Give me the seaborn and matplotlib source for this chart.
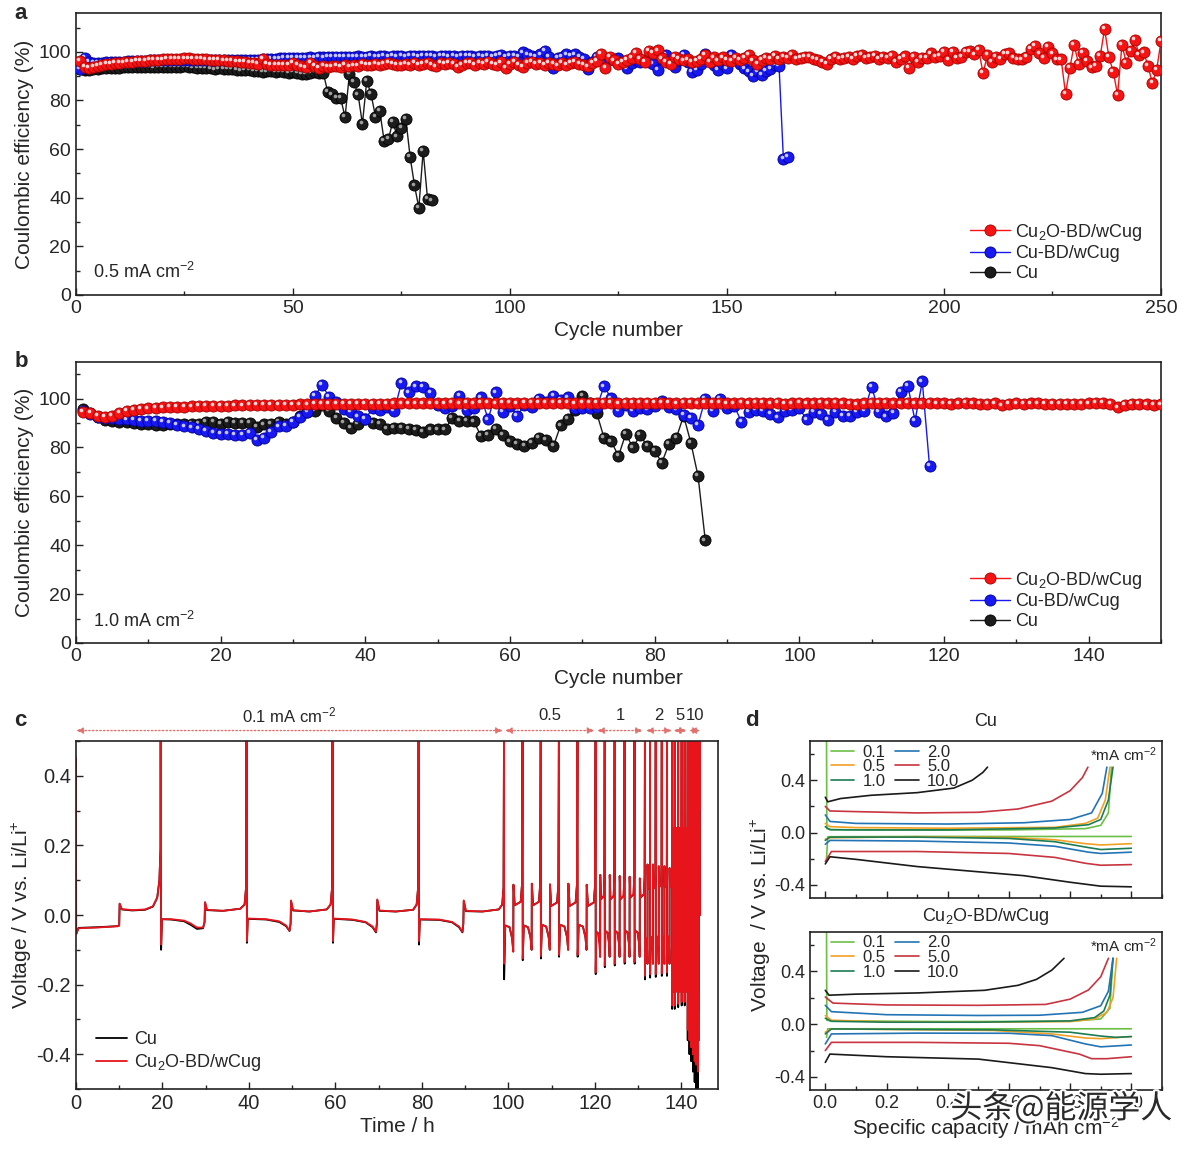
import numpy as np
import matplotlib
matplotlib.use("Agg")
import matplotlib.pyplot as plt
import matplotlib.transforms as mtransforms
import matplotlib.patheffects as pe
from matplotlib.ticker import MultipleLocator
import seaborn as sns

sns.set_theme(style="ticks")
plt.rcParams['font.family'] = ['Liberation Sans', 'DejaVu Sans']
plt.rcParams['mathtext.fontset'] = 'custom'
plt.rcParams['mathtext.rm'] = 'Liberation Sans'
plt.rcParams['mathtext.it'] = 'Liberation Sans:italic'
plt.rcParams['axes.unicode_minus'] = False

# ---------------- DATA ----------------
# (a) Coulombic efficiency at 0.5 mA cm-2, one value per cycle
ce_a_cu2o = [
    96.3, 93.8, 93.5, 93.8, 94.2, 94.6, 94.9, 95.1, 95.3, 95.5,
    95.7, 95.9, 96.0, 96.2, 96.3, 96.4, 96.6, 96.7, 96.8, 96.9,
    97.0, 97.1, 97.1, 97.2, 97.3, 97.3, 97.2, 97.1, 97.0, 96.9,
    96.8, 96.7, 96.6, 96.5, 96.4, 96.3, 96.1, 96.0, 95.8, 95.6,
    95.4, 95.2, 97.0, 95.0, 94.8, 94.7, 94.6, 94.5, 94.8, 95.3,
    94.5, 94.0, 93.6, 95.5, 94.2, 93.5, 94.2, 93.8, 94.0, 94.3,
    93.8, 94.5, 94.0, 94.4, 94.2, 95.0, 94.5, 94.8, 95.0, 94.6,
    94.9, 95.5, 95.0, 94.6, 94.8, 95.2, 94.5, 95.6, 94.7, 95.0,
    95.4, 94.8, 94.0, 95.3, 95.1, 95.6, 95.0, 93.9, 94.8, 95.3,
    95.5, 94.8, 95.6, 95.0, 96.0, 95.2, 94.8, 95.7, 93.5, 95.2,
    95.8, 94.5, 93.8, 95.6, 96.0, 95.0, 95.4, 94.7, 95.5, 95.0,
    94.4, 95.3, 94.8, 95.5, 96.0, 95.2, 94.5, 94.0, 95.5, 96.2,
    99.3, 93.4, 98.0, 96.5, 95.2, 96.0, 96.6, 97.5, 99.6, 97.0,
    95.9, 100.3, 99.5, 100.6, 97.3, 96.0, 95.2, 98.0, 97.0, 96.5,
    96.9, 95.8, 96.2, 97.0, 98.6, 96.0, 97.7, 96.5, 97.7, 96.8,
    96.3, 97.5, 96.8, 97.6, 98.6, 96.5, 95.2, 96.8, 97.6, 97.0,
    98.2, 97.0, 98.0, 97.4, 98.6, 97.2, 97.5, 98.0, 97.8, 97.0,
    96.6, 95.8, 94.9, 97.0, 98.0, 97.2, 97.6, 98.0, 97.2, 98.3,
    98.6, 97.5, 97.8, 98.2, 97.0, 98.0, 97.5, 98.3, 95.9, 97.0,
    98.1, 93.3, 97.8, 96.0, 97.4, 97.4, 99.4, 97.8, 98.5, 100.1,
    96.7, 100.1, 97.4, 98.0, 100.1, 100.2, 99.0, 100.8, 91.2, 98.7,
    96.0, 98.0, 97.2, 99.1, 99.4, 97.4, 96.9, 96.9, 97.8, 101.1,
    102.5, 99.4, 97.5, 102.2, 99.4, 96.9, 96.9, 82.8, 93.5, 102.9,
    95.0, 99.5, 96.4, 93.6, 94.3, 98.4, 109.4, 97.8, 91.9, 82.3,
    102.9, 95.6, 100.4, 104.9, 98.6, 99.8, 94.3, 87.2, 92.6, 104.5,
]
ce_a_cubd = [
    93.0, 97.5, 96.0, 95.5, 95.5, 95.6, 95.7, 95.8, 95.9, 96.0,
    96.0, 96.1, 96.2, 96.3, 96.3, 96.4, 96.5, 96.5, 96.6, 96.6,
    96.7, 96.7, 96.7, 96.8, 96.8, 96.8, 96.8, 96.8, 96.7, 96.7,
    96.6, 96.6, 96.5, 96.5, 96.5, 96.5, 96.5, 96.5, 96.6, 96.6,
    96.7, 96.8, 96.9, 97.0, 97.1, 97.2, 97.3, 97.4, 97.4, 97.5,
    97.5, 97.4, 97.6, 97.7, 97.6, 97.8, 97.7, 97.8, 97.9, 97.8,
    97.9, 98.0, 97.8, 98.0, 98.1, 97.9, 98.0, 98.2, 98.0, 98.1,
    98.3, 98.0, 98.2, 98.1, 98.3, 98.0, 98.4, 98.2, 98.1, 98.3,
    98.2, 98.4, 98.0, 98.3, 98.5, 98.1, 98.3, 98.0, 98.4, 98.2,
    98.3, 98.0, 98.4, 98.1, 98.5, 97.8, 98.2, 98.6, 98.0, 98.4,
    98.5, 98.0, 99.8, 99.0, 98.2, 98.0, 99.0, 100.5, 98.0, 93.4,
    97.5, 98.0, 99.0, 98.5, 99.0, 98.0, 97.0, 93.0, 96.0, 98.0,
    98.0, 97.5, 97.0, 96.5, 97.3, 96.0, 93.2, 95.5, 96.5, 96.0,
    96.5, 95.9, 95.0, 92.5, 97.0, 98.6, 96.0, 93.9, 96.5, 98.6,
    96.0, 91.8, 92.5, 95.0, 99.0, 96.5, 94.5, 92.5, 95.0, 93.2,
    98.6, 96.5, 95.0, 93.2, 92.0, 90.0, 92.0, 90.4, 92.2, 93.0,
    94.5, 94.1, 55.9, 56.7,
]
ce_a_cu = [
    93.0, 92.7, 92.6, 92.8, 93.0, 93.2, 93.3, 93.4, 93.5, 93.5,
    93.6, 93.6, 93.7, 93.7, 93.7, 93.8, 93.8, 93.6, 93.8, 93.8,
    93.9, 93.9, 93.8, 93.9, 94.0, 93.9, 93.6, 93.4, 93.5, 93.3,
    93.2, 92.8, 93.2, 93.0, 92.9, 93.0, 92.7, 92.4, 92.6, 92.5,
    92.3, 92.2, 91.8, 92.0, 92.2, 91.8, 92.0, 91.7, 91.5, 91.9,
    91.2, 91.0, 90.8, 91.4, 91.6, 91.5, 91.2, 83.6, 82.5, 81.1,
    80.9, 73.1, 90.8, 87.7, 82.5, 70.4, 88.1, 82.6, 73.4, 75.7,
    63.5, 64.1, 71.3, 65.2, 68.6, 72.4, 56.7, 45.1, 35.8, 59.3,
    39.6, 38.9,
]

# (b) Coulombic efficiency at 1.0 mA cm-2
ce_b_cu2o = [
    94.7, 94.0, 93.0, 92.6, 92.8, 94.3, 95.0, 95.5, 95.8, 96.0,
    96.2, 96.4, 96.5, 96.6, 96.7, 96.8, 96.9, 97.0, 97.0, 97.1,
    97.1, 97.2, 97.2, 97.3, 97.3, 97.3, 97.4, 97.4, 97.4, 97.5,
    97.6, 97.6, 97.7, 97.7, 97.7, 97.8, 97.8, 97.8, 97.8, 97.9,
    97.9, 97.9, 97.9, 98.0, 98.0, 98.0, 98.0, 98.0, 98.0, 98.0,
    98.0, 98.1, 98.0, 98.1, 98.0, 98.1, 98.1, 98.0, 98.1, 98.1,
    98.0, 98.1, 98.1, 98.2, 98.1, 98.1, 98.2, 98.1, 98.0, 98.1,
    98.1, 98.2, 98.1, 98.1, 98.0, 98.1, 98.1, 98.2, 98.1, 98.1,
    98.2, 98.1, 98.0, 98.1, 98.1, 98.0, 98.2, 98.1, 98.1, 98.0,
    98.0, 98.1, 98.0, 98.2, 98.1, 98.0, 98.1, 97.9, 98.0, 98.1,
    98.0, 98.0, 98.1, 98.0, 98.1, 98.0, 97.9, 97.6, 98.0, 98.1,
    98.2, 98.1, 98.0, 98.0, 98.1, 98.0, 98.0, 98.1, 98.0, 98.0,
    97.9, 98.0, 98.1, 98.0, 97.9, 97.9, 98.0, 97.2, 97.9, 98.0,
    97.9, 98.0, 98.0, 97.9, 97.9, 97.8, 97.9, 97.8, 97.9, 98.0,
    98.3, 98.1, 97.8, 96.4, 97.5, 97.7, 97.8, 97.6, 97.3, 97.6,
]
ce_b_cubd = [
    95.0, 93.5, 92.5, 92.0, 92.0, 91.8, 91.5, 91.3, 91.0, 91.0,
    90.8, 90.5, 90.0, 89.2, 88.6, 88.2, 87.5, 86.8, 86.0, 85.6,
    85.4, 85.3, 85.2, 85.8, 83.2, 84.0, 86.3, 88.6, 88.8, 90.4,
    92.4, 94.4, 101.0, 105.5, 100.8, 98.5, 95.8, 94.6, 92.7, 91.6,
    96.0, 95.5, 96.5, 95.0, 106.5, 102.5, 105.0, 104.8, 102.2, 97.5,
    96.0, 97.0, 101.0, 95.5, 96.0, 100.5, 91.5, 102.5, 94.5, 97.0,
    92.9, 97.5, 96.5, 100.0, 98.5, 101.0, 99.5, 100.5, 96.0, 96.0,
    96.0, 96.5, 105.0, 100.1, 95.0, 97.5, 95.0, 96.0, 95.6, 97.0,
    99.0, 96.5, 95.6, 93.3, 92.0, 89.3, 100.0, 95.0, 99.8, 96.0,
    97.0, 90.5, 94.6, 95.5, 95.0, 93.7, 92.3, 95.0, 95.5, 96.0,
    91.5, 94.5, 93.6, 91.2, 94.5, 93.0, 93.0, 94.5, 95.0, 104.9,
    94.5, 92.7, 94.3, 102.9, 105.2, 91.0, 107.0, 72.4,
]
ce_b_cu = [
    95.8, 94.0, 92.5, 91.2, 90.7, 90.5, 90.4, 90.2, 89.6, 89.4,
    89.3, 89.3, 89.4, 89.5, 89.5, 89.6, 89.8, 90.3, 90.3, 89.6,
    90.5, 90.2, 90.0, 90.0, 88.5, 89.4, 89.8, 90.5, 89.6, 90.3,
    92.9, 94.5, 95.0, 97.5, 94.8, 92.1, 90.0, 88.0, 89.5, 91.6,
    90.0, 89.8, 87.7, 88.0, 88.0, 87.7, 87.2, 86.4, 87.4, 87.4,
    87.4, 92.0, 90.8, 91.0, 90.7, 84.6, 85.2, 87.6, 85.3, 82.5,
    81.6, 80.5, 81.9, 84.0, 83.0, 80.5, 89.0, 91.7, 95.5, 101.2,
    98.0, 94.0, 84.0, 82.5, 76.5, 85.5, 80.0, 85.0, 80.5, 78.6,
    73.8, 81.6, 83.9, 93.0, 82.0, 68.3, 42.0,
]
CE_LABELS = ['Cu$_2$O-BD/wCug', 'Cu-BD/wCug', 'Cu']

# (c) rate test, 0.1 mA cm-2 block read as (time h, voltage V) vertices
t_low = [0.0, 0.05, 0.6, 5.0, 9.8, 10.0, 10.1, 10.6, 13.0, 16.0, 17.8, 18.8, 19.3, 19.55, 19.6,
         19.7, 19.9, 22.0, 25.0, 26.5, 28.0, 29.4, 29.75, 29.85, 30.3, 34.0, 38.0, 39.0, 39.35, 39.45,
         39.55, 39.75, 44.0, 47.0, 48.6, 49.4, 49.65, 49.75, 50.2, 54.0, 58.0, 58.9, 59.25, 59.35,
         59.45, 59.65, 64.0, 67.0, 68.6, 69.4, 69.6, 69.7, 70.2, 74.0, 78.0, 78.8, 79.15, 79.25,
         79.35, 79.55, 84.0, 87.0, 88.6, 89.4, 89.6, 89.7, 90.2, 94.0, 97.8, 98.6, 98.9, 99.0]
v_low_cu2o = [0.45, -0.055, -0.038, -0.036, -0.032, -0.03, 0.033, 0.017, 0.014, 0.016, 0.025, 0.05, 0.1, 0.19, 0.5,
              -0.085, -0.012, -0.012, -0.016, -0.024, -0.036, -0.036, -0.02, 0.037, 0.015, 0.012, 0.018, 0.03, 0.08, 0.5,
              -0.075, -0.01, -0.012, -0.018, -0.03, -0.045, -0.025, 0.042, 0.014, 0.01, 0.016, 0.03, 0.08, 0.5,
              -0.075, -0.01, -0.013, -0.02, -0.033, -0.048, -0.025, 0.045, 0.013, 0.01, 0.015, 0.03, 0.08, 0.5,
              -0.075, -0.012, -0.013, -0.02, -0.033, -0.048, -0.025, 0.042, 0.012, 0.01, 0.016, 0.03, 0.08, 0.5]
v_low_cu = [0.45, -0.055, -0.037, -0.035, -0.032, -0.03, 0.032, 0.016, 0.013, 0.015, 0.024, 0.05, 0.1, 0.19, 0.5,
            -0.1, -0.012, -0.013, -0.018, -0.028, -0.04, -0.038, -0.02, 0.036, 0.014, 0.012, 0.018, 0.03, 0.08, 0.5,
            -0.08, -0.011, -0.013, -0.02, -0.032, -0.046, -0.025, 0.04, 0.013, 0.01, 0.016, 0.03, 0.08, 0.5,
            -0.08, -0.011, -0.014, -0.021, -0.035, -0.05, -0.025, 0.043, 0.012, 0.01, 0.015, 0.03, 0.08, 0.5,
            -0.085, -0.013, -0.014, -0.021, -0.035, -0.05, -0.025, 0.04, 0.011, 0.01, 0.016, 0.03, 0.08, 0.5]

# (c) higher rates (0.5, 1, 2, 5, 10 mA cm-2): per-cycle start times and levels
hr_start = [99.0, 103.3, 107.5, 111.7, 116.0,
            120.2, 122.3, 124.6, 126.9, 129.2,
            131.6, 132.8, 134.1, 135.5, 136.7,
            137.9, 138.5, 139.3, 140.1, 140.8,
            141.5, 141.9, 142.3, 142.7, 143.1, 143.5, 143.9, 144.3]
hr_plate = [-0.030, -0.030, -0.028, -0.028, -0.028,
            -0.048, -0.046, -0.046, -0.045, -0.045,
            -0.065, -0.062, -0.060, -0.060, -0.060,
            -0.12, -0.12, -0.12, -0.12, -0.12,
            -0.22, -0.23, -0.24, -0.25, -0.26, -0.27, -0.28]
hr_plate_end = [-0.105, -0.10, -0.10, -0.10, -0.10,
                -0.12, -0.12, -0.12, -0.12, -0.12,
                -0.14, -0.14, -0.14, -0.14, -0.14,
                -0.22, -0.22, -0.22, -0.22, -0.22,
                -0.30, -0.31, -0.32, -0.33, -0.34, -0.35, -0.36]
hr_over = [0.087, 0.09, 0.088, 0.09, 0.087,
           0.115, 0.115, 0.112, 0.11, 0.105,
           0.145, 0.145, 0.14, 0.14, 0.135,
           0.25, 0.25, 0.25, 0.25, 0.25,
           0.35, 0.35, 0.35, 0.35, 0.35, 0.35, 0.35]
hr_strip = [0.028, 0.028, 0.026, 0.026, 0.026,
            0.045, 0.045, 0.045, 0.05, 0.05,
            0.075, 0.075, 0.08, 0.08, 0.08,
            0.18, 0.18, 0.18, 0.18, 0.18,
            0.30, 0.30, 0.30, 0.30, 0.30, 0.30, 0.30]
hr_min_cu2o = [-0.14, -0.125, -0.118, -0.115, -0.115,
               -0.165, -0.145, -0.14, -0.135, -0.135,
               -0.175, -0.17, -0.17, -0.168, -0.165,
               -0.26, -0.26, -0.255, -0.25, -0.25,
               -0.33, -0.36, -0.38, -0.40, -0.42, -0.43, -0.45]
hr_min_cu = [-0.185, -0.13, -0.125, -0.12, -0.12,
             -0.17, -0.15, -0.145, -0.14, -0.14,
             -0.185, -0.18, -0.178, -0.175, -0.175,
             -0.27, -0.27, -0.265, -0.26, -0.26,
             -0.36, -0.40, -0.42, -0.45, -0.48, -0.50, -0.50]
rate_spans = [(0.0, 98.8), (99.2, 120.0), (120.5, 131.2), (131.8, 137.9), (138.2, 141.4), (141.8, 144.4)]
rate_texts = ['0.1 mA cm$^{-2}$', '0.5', '1', '2', '5', '10']

# (d) voltage profiles at each current density (mA cm-2)
RATES = ['0.1', '0.5', '1.0', '2.0', '5.0', '10.0']
RATE_COLORS = ['#6cbf45', '#f2a024', '#1b7d55', '#2274b5', '#c83440', '#1a1a1a']
cu_strip_cap = [
    [0.004, 0.005, 0.02, 0.3, 0.6, 0.85, 0.9, 0.925, 0.935],
    [0.0, 0.015, 0.1, 0.4, 0.75, 0.85, 0.89, 0.915, 0.93],
    [0.0, 0.015, 0.1, 0.4, 0.75, 0.86, 0.9, 0.925, 0.94],
    [0.0, 0.015, 0.1, 0.4, 0.65, 0.8, 0.87, 0.905, 0.92],
    [0.0, 0.015, 0.1, 0.3, 0.5, 0.63, 0.74, 0.8, 0.84, 0.858],
    [0.0, 0.008, 0.05, 0.15, 0.3, 0.42, 0.48, 0.515, 0.53],
]
cu_strip_v = [
    [0.72, 0.03, 0.022, 0.02, 0.02, 0.03, 0.055, 0.15, 0.5],
    [0.07, 0.045, 0.038, 0.033, 0.04, 0.07, 0.11, 0.25, 0.5],
    [0.045, 0.022, 0.02, 0.02, 0.035, 0.06, 0.1, 0.25, 0.5],
    [0.135, 0.085, 0.07, 0.065, 0.075, 0.1, 0.15, 0.3, 0.5],
    [0.2, 0.165, 0.16, 0.15, 0.155, 0.18, 0.24, 0.32, 0.42, 0.5],
    [0.27, 0.235, 0.26, 0.285, 0.305, 0.34, 0.4, 0.46, 0.5],
]
cu_plate_cap = [
    [0.004, 0.008, 0.3, 0.7, 1.0],
    [0.0, 0.015, 0.3, 0.6, 0.75, 0.85, 0.9, 1.0],
    [0.0, 0.015, 0.3, 0.6, 0.75, 0.86, 0.9, 1.0],
    [0.0, 0.015, 0.3, 0.6, 0.75, 0.86, 0.9, 1.0],
    [0.0, 0.02, 0.3, 0.6, 0.75, 0.85, 0.9, 1.0],
    [0.0, 0.015, 0.1, 0.3, 0.5, 0.65, 0.8, 0.9, 1.0],
]
cu_plate_v = [
    [-0.2, -0.032, -0.03, -0.03, -0.03],
    [-0.05, -0.04, -0.032, -0.038, -0.055, -0.085, -0.095, -0.085],
    [-0.06, -0.035, -0.035, -0.045, -0.07, -0.115, -0.13, -0.12],
    [-0.09, -0.06, -0.065, -0.08, -0.105, -0.15, -0.16, -0.15],
    [-0.22, -0.145, -0.145, -0.16, -0.19, -0.235, -0.25, -0.245],
    [-0.24, -0.185, -0.205, -0.26, -0.3, -0.33, -0.38, -0.41, -0.415],
]
cu2o_strip_cap = [
    [0.004, 0.005, 0.02, 0.4, 0.8, 0.9, 0.93, 0.94],
    [0.0, 0.02, 0.2, 0.5, 0.8, 0.88, 0.92, 0.94, 0.952],
    [0.0, 0.02, 0.2, 0.5, 0.8, 0.88, 0.91, 0.93, 0.94],
    [0.0, 0.02, 0.2, 0.5, 0.7, 0.84, 0.9, 0.925, 0.94],
    [0.0, 0.025, 0.2, 0.5, 0.72, 0.8, 0.86, 0.9, 0.925],
    [0.0, 0.012, 0.1, 0.3, 0.52, 0.63, 0.69, 0.74, 0.78],
]
cu2o_strip_v = [
    [0.72, 0.03, 0.025, 0.02, 0.022, 0.04, 0.12, 0.5],
    [0.066, 0.03, 0.018, 0.015, 0.02, 0.04, 0.09, 0.2, 0.5],
    [0.045, 0.022, 0.015, 0.015, 0.025, 0.05, 0.1, 0.22, 0.5],
    [0.143, 0.095, 0.072, 0.066, 0.068, 0.09, 0.14, 0.25, 0.5],
    [0.206, 0.16, 0.146, 0.143, 0.15, 0.19, 0.26, 0.36, 0.5],
    [0.257, 0.22, 0.228, 0.237, 0.257, 0.295, 0.34, 0.41, 0.5],
]
cu2o_plate_cap = [
    [0.004, 0.008, 0.4, 1.0],
    [0.0, 0.02, 0.3, 0.55, 0.74, 0.85, 0.9, 1.0],
    [0.0, 0.02, 0.3, 0.55, 0.8, 0.9, 0.95, 1.0],
    [0.0, 0.02, 0.3, 0.6, 0.74, 0.85, 0.9, 1.0],
    [0.0, 0.02, 0.3, 0.6, 0.7, 0.83, 0.87, 0.92, 1.0],
    [0.0, 0.015, 0.2, 0.5, 0.74, 0.85, 0.9, 1.0],
]
cu2o_plate_v = [
    [-0.1, -0.035, -0.035, -0.035],
    [-0.061, -0.036, -0.042, -0.048, -0.074, -0.105, -0.11, -0.094],
    [-0.074, -0.036, -0.04, -0.043, -0.061, -0.09, -0.1, -0.094],
    [-0.15, -0.074, -0.068, -0.069, -0.087, -0.15, -0.172, -0.158],
    [-0.2, -0.138, -0.138, -0.145, -0.163, -0.227, -0.262, -0.262, -0.247],
    [-0.29, -0.227, -0.247, -0.265, -0.33, -0.375, -0.38, -0.375],
]

# ---------------- FIGURE ----------------
fig = plt.figure(figsize=(12, 11.49), dpi=100)
ax_a = fig.add_axes([0.0633, 0.7433, 0.9042, 0.2454])
ax_b = fig.add_axes([0.0633, 0.4404, 0.9042, 0.2446])
ax_c = fig.add_axes([0.0633, 0.0522, 0.5350, 0.3029])
ax_d1 = fig.add_axes([0.675, 0.2185, 0.2933, 0.1366])
ax_d2 = fig.add_axes([0.675, 0.0513, 0.2933, 0.1376])


def style_axes(ax, fs):
    for s in ax.spines.values():
        s.set_linewidth(1.2)
        s.set_color('#222222')
    ax.tick_params(which='both', direction='in', top=False, right=False,
                   labelsize=fs, width=1.0, color='#222222')
    ax.tick_params(which='major', length=5)
    ax.tick_params(which='minor', length=3)


def ce_series(ax, values, face, edge, shine, label, z):
    cyc = np.arange(1, len(values) + 1)
    sns.lineplot(x=cyc, y=values, ax=ax, color=face, linewidth=1.0, marker='o',
                 markersize=8, markerfacecolor=face, markeredgecolor=edge,
                 markeredgewidth=0.6, label=label, zorder=z, estimator=None, sort=False)
    off = ax.transData + mtransforms.ScaledTranslation(-1.3 / 72, 1.3 / 72, fig.dpi_scale_trans)
    ax.plot(cyc, values, ls='none', marker='o', ms=2.6, mfc=shine, mec='none',
            transform=off, zorder=z + 0.1)


def ce_panel(ax, red, blue, black, xmax, ymax, xmaj, note):
    ce_series(ax, black, '#1c1c1c', '#000000', '#a0a0a0', CE_LABELS[2], 2)
    ce_series(ax, blue, '#1818f0', '#00009a', '#c8c8ff', CE_LABELS[1], 3)
    ce_series(ax, red, '#f41414', '#a80000', '#ffd4d4', CE_LABELS[0], 4)
    ax.set_xlim(0, xmax)
    ax.set_ylim(0, ymax)
    ax.xaxis.set_major_locator(MultipleLocator(xmaj))
    ax.xaxis.set_minor_locator(MultipleLocator(xmaj / 2))
    ax.yaxis.set_major_locator(MultipleLocator(20))
    ax.yaxis.set_minor_locator(MultipleLocator(10))
    style_axes(ax, 14)
    ax.set_xlabel('Cycle number', fontsize=15, labelpad=3)
    ax.set_ylabel('Coulombic efficiency (%)', fontsize=15, labelpad=3)
    h, l = ax.get_legend_handles_labels()
    order = [l.index(n) for n in CE_LABELS]
    ax.legend([h[i] for i in order], CE_LABELS, loc='lower right', bbox_to_anchor=(0.99, 0.02),
              frameon=False, fontsize=13, handlelength=2.2, handletextpad=0.3,
              labelspacing=0.15, borderaxespad=0)
    ax.text(0.016, 0.08, note, transform=ax.transAxes, fontsize=13, va='center')


ce_panel(ax_a, ce_a_cu2o, ce_a_cubd, ce_a_cu, 250, 116, 50, '0.5 mA cm$^{-2}$')
ce_panel(ax_b, ce_b_cu2o, ce_b_cubd, ce_b_cu, 150, 115, 20, '1.0 mA cm$^{-2}$')


# ----- panel c -----
def hr_profile(mins):
    t, v = [], []
    for i in range(len(hr_plate)):
        ts, te = hr_start[i], hr_start[i + 1]
        p = te - ts
        t += [ts + 0.01 * p, ts + 0.07 * p, ts + 0.3 * p, ts + 0.44 * p, ts + 0.5 * p,
              ts + 0.51 * p, ts + 0.58 * p, ts + 0.9 * p, ts + 0.97 * p, te]
        v += [mins[i], hr_plate[i], hr_plate[i] - 0.005, (hr_plate[i] + hr_plate_end[i]) / 2,
              hr_plate_end[i], hr_over[i], hr_strip[i], hr_strip[i] + 0.01, hr_strip[i] + 0.06, 0.5]
    return t, v


t_hr_cu, v_hr_cu = hr_profile(hr_min_cu)
t_hr_cu2o, v_hr_cu2o = hr_profile(hr_min_cu2o)
t_cu = t_low + t_hr_cu + [144.36]
v_cu = v_low_cu + v_hr_cu + [0.0]
t_cu2o = t_low + t_hr_cu2o + [144.36]
v_cu2o = v_low_cu2o + v_hr_cu2o + [0.0]

sns.lineplot(x=t_cu, y=v_cu, ax=ax_c, color='black', linewidth=1.3, sort=False,
             estimator=None, label='Cu')
sns.lineplot(x=t_cu2o, y=v_cu2o, ax=ax_c, color='#e8141c', linewidth=1.3, sort=False,
             estimator=None, label='Cu$_2$O-BD/wCug')
ax_c.set_xlim(0, 148.5)
ax_c.set_ylim(-0.5, 0.5)
ax_c.xaxis.set_major_locator(MultipleLocator(20))
ax_c.xaxis.set_minor_locator(MultipleLocator(10))
ax_c.yaxis.set_major_locator(MultipleLocator(0.2))
ax_c.yaxis.set_minor_locator(MultipleLocator(0.1))
style_axes(ax_c, 14.5)
ax_c.set_xlabel('Time / h', fontsize=15, labelpad=3)
ax_c.set_ylabel('Voltage / V vs. Li/Li$^{+}$', fontsize=15, labelpad=2)
ax_c.legend(loc='lower left', bbox_to_anchor=(0.02, 0.025), frameon=False, fontsize=13,
            handlelength=1.7, handletextpad=0.4, labelspacing=0.2, borderaxespad=0)
blend = mtransforms.blended_transform_factory(ax_c.transData, ax_c.transAxes)
for (t0, t1), txt in zip(rate_spans, rate_texts):
    ax_c.annotate('', xy=(t1, 1.03), xytext=(t0, 1.03),
                  xycoords=('data', 'axes fraction'), textcoords=('data', 'axes fraction'),
                  annotation_clip=False,
                  arrowprops=dict(arrowstyle='<|-|>,head_length=0.35,head_width=0.15',
                                  linestyle=':', linewidth=1.0, color='#e2706c',
                                  shrinkA=0, shrinkB=0))
    ax_c.text((t0 + t1) / 2, 1.072, txt, transform=blend, ha='center', va='center',
              fontsize=12)


# ----- panel d -----
def d_panel(ax, s_cap, s_v, p_cap, p_v, show_x):
    for i, rate in enumerate(RATES):
        sns.lineplot(x=s_cap[i], y=s_v[i], ax=ax, color=RATE_COLORS[i], linewidth=1.2,
                     sort=False, estimator=None, label=rate)
        sns.lineplot(x=p_cap[i], y=p_v[i], ax=ax, color=RATE_COLORS[i], linewidth=1.2,
                     sort=False, estimator=None)
    ax.set_xlim(-0.05, 1.1)
    ax.set_ylim(-0.5, 0.7)
    ax.xaxis.set_major_locator(MultipleLocator(0.2))
    ax.xaxis.set_minor_locator(MultipleLocator(0.1))
    ax.yaxis.set_major_locator(MultipleLocator(0.4))
    ax.yaxis.set_minor_locator(MultipleLocator(0.2))
    style_axes(ax, 13)
    if not show_x:
        ax.tick_params(axis='x', labelbottom=False)
    ax.set_xlabel('')
    ax.set_ylabel('')
    ax.legend(loc='upper left', bbox_to_anchor=(0.04, 1.02), ncol=2, frameon=False,
              fontsize=12, handlelength=1.4, handletextpad=0.5, columnspacing=0.6,
              labelspacing=-0.02, borderaxespad=0)
    ax.text(0.985, 0.91, '*mA cm$^{-2}$', transform=ax.transAxes, ha='right',
            va='center', fontsize=11)


d_panel(ax_d1, cu_strip_cap, cu_strip_v, cu_plate_cap, cu_plate_v, False)
d_panel(ax_d2, cu2o_strip_cap, cu2o_strip_v, cu2o_plate_cap, cu2o_plate_v, True)
ax_d1.set_title('Cu', fontsize=13, pad=11)
ax_d2.set_title('Cu$_2$O-BD/wCug', fontsize=13, pad=8)
ax_d2.set_xlabel('Specific capacity / mAh cm$^{-2}$', fontsize=15, labelpad=2)
fig.text(0.634, 0.2037, 'Voltage  / V vs. Li/Li$^{+}$', rotation=90, ha='center',
         va='center', fontsize=15)

# panel letters
for x, y, s in [(0.012, 0.988, 'a'), (0.012, 0.685, 'b'), (0.012, 0.373, 'c'), (0.621, 0.373, 'd')]:
    fig.text(x, y, s, fontsize=16, fontweight='bold', ha='left', va='center')

# source watermark printed over the figure
fig.text(0.792, 0.035, '头条@能源学人', fontsize=23, color='#2a2a2a',
         family=['Noto Sans CJK SC', 'DejaVu Sans'], ha='left', va='center', zorder=20,
         path_effects=[pe.withStroke(linewidth=3, foreground='white')])

fig.savefig('out.png', dpi=100)
